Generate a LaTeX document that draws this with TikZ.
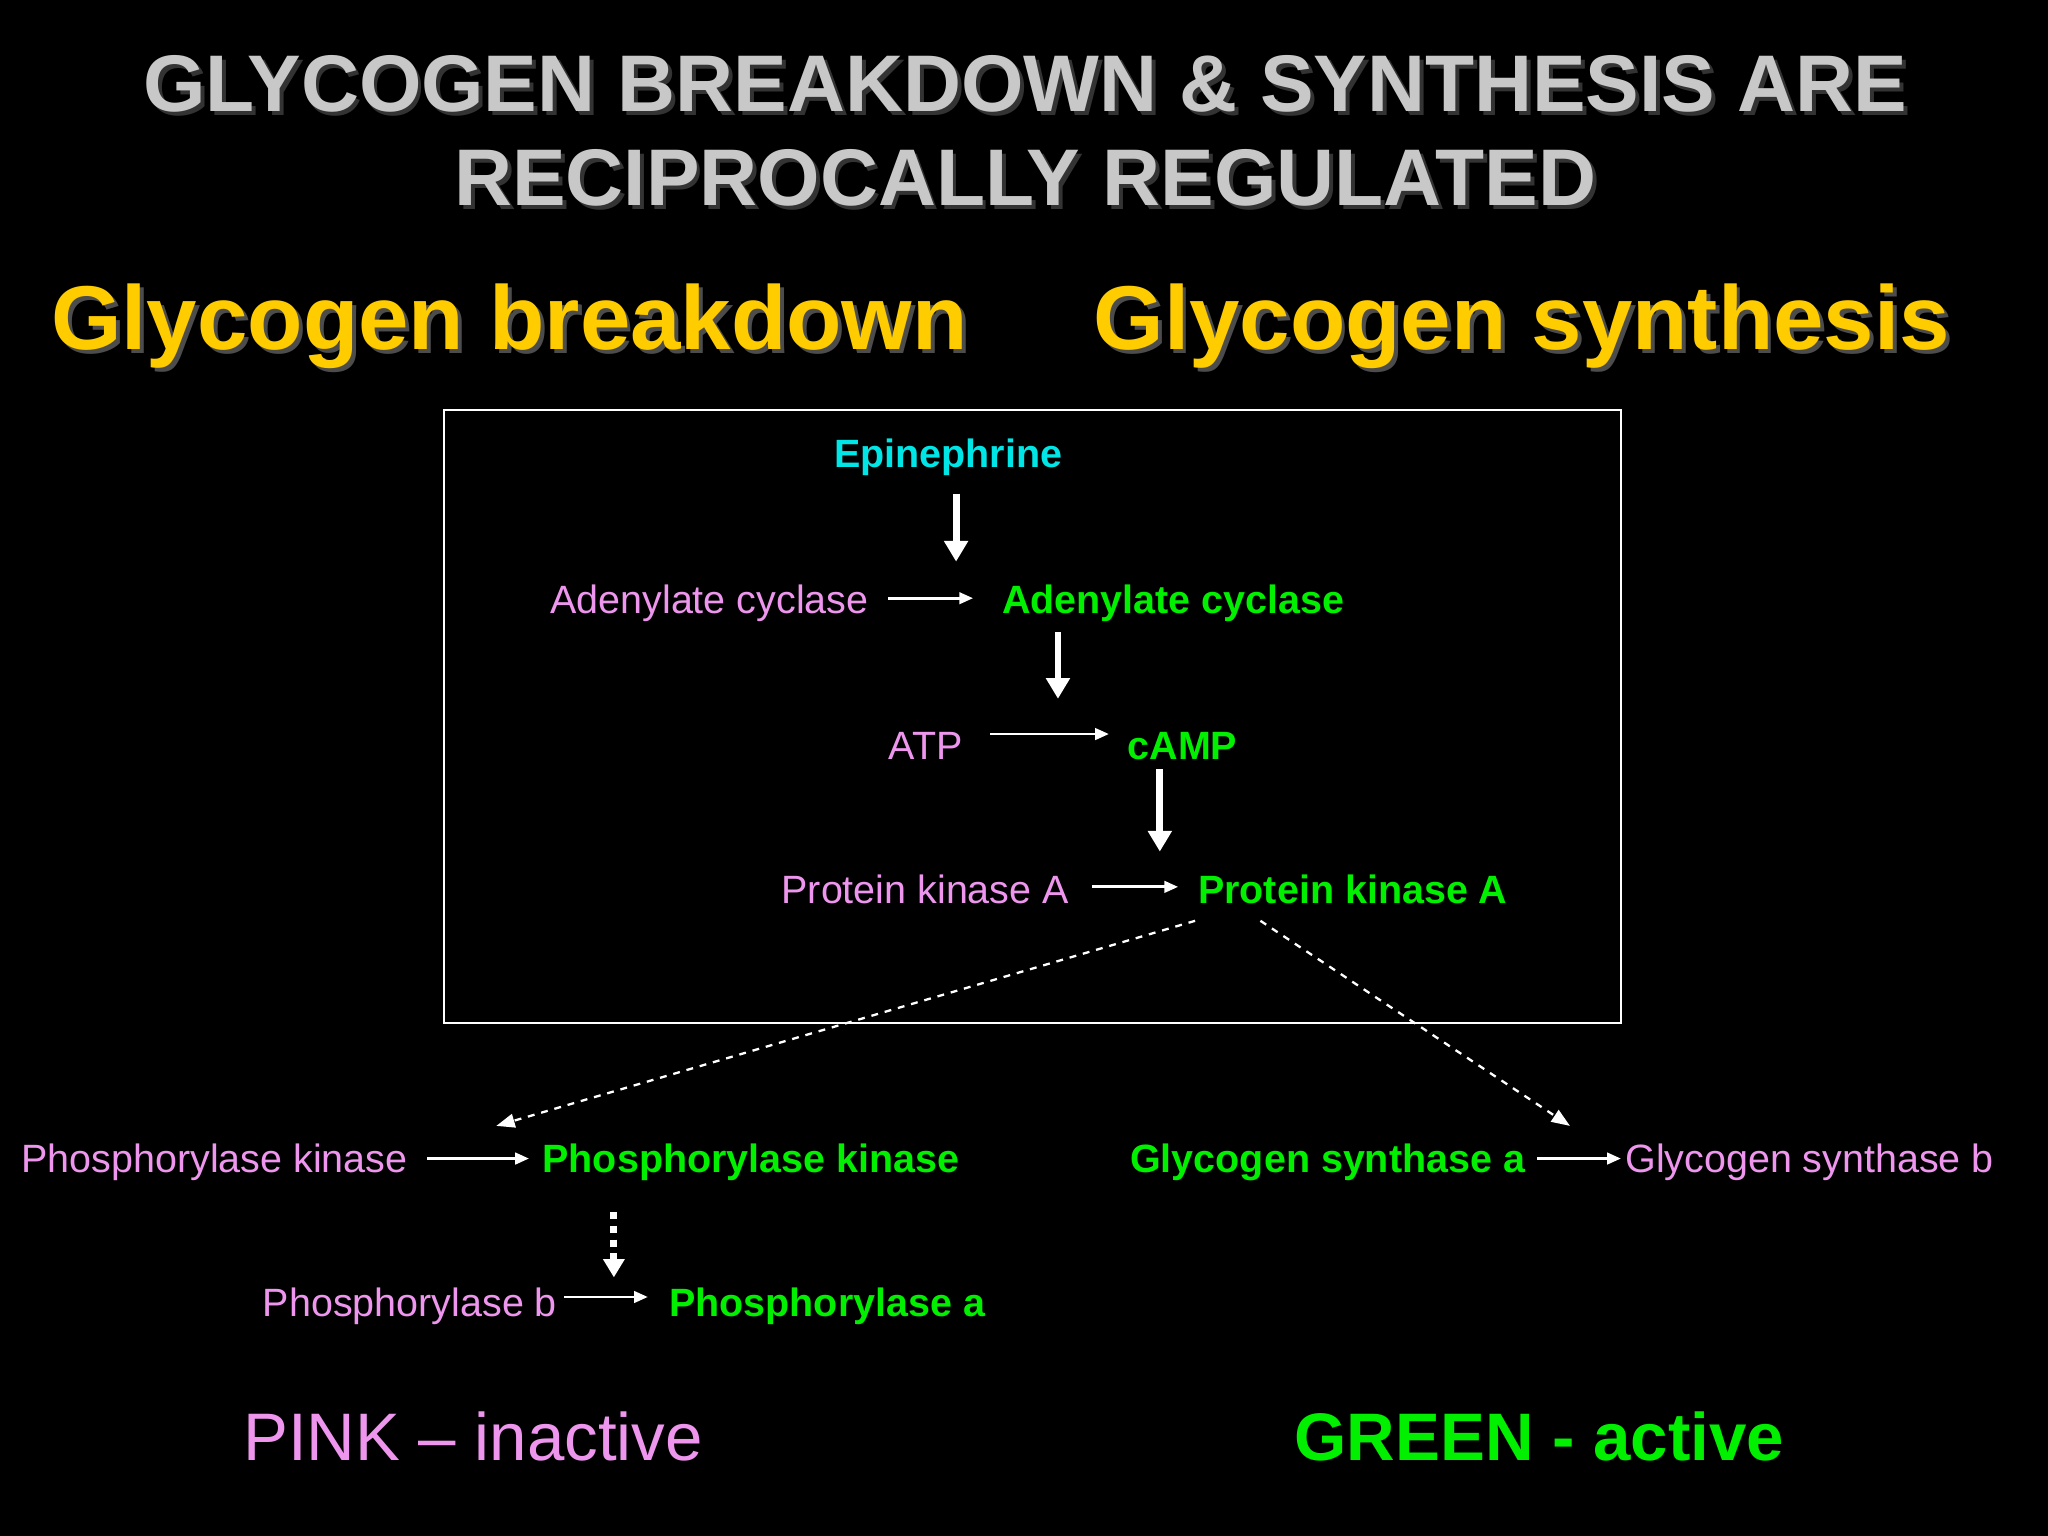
\documentclass[tikz,border=0pt]{standalone}
\usepackage{fontspec}
\setmainfont{Liberation Sans}
\usetikzlibrary{arrows.meta}
\definecolor{pk}{RGB}{238,150,238}
\definecolor{gr}{RGB}{0,240,0}
\definecolor{cy}{RGB}{0,230,230}
\definecolor{gd}{RGB}{255,204,0}
\definecolor{tg}{RGB}{200,200,200}
\begin{document}
\begin{tikzpicture}[x=0.02cm,y=-0.02cm,
  lab/.style={anchor=west,inner sep=0pt,font=\fontsize{17.2}{19}\selectfont},
  pinkl/.style={lab,text=pk},
  greenl/.style={lab,text=gr,font=\fontsize{17.2}{19}\selectfont\bfseries},
  thin/.style={white,line width=1.2pt,-{Triangle[length=6pt,width=5pt]}},
  fat/.style={white,line width=3pt,-{Triangle[length=9pt,width=10pt]}},
  dsh/.style={white,line width=1pt,dashed,-{Triangle[length=8pt,width=6pt]}}]
\fill[black] (0,0) rectangle (1568,1176);
\useasboundingbox (0,0) rectangle (1568,1176);
% title
\foreach \c/\d in {black!60!gray/3, tg/0}{
 \node[text=\c,font=\fontsize{35}{41}\selectfont\bfseries,align=center] (t\d) at (785+\d,100+\d) {GLYCOGEN BREAKDOWN \& SYNTHESIS ARE\\RECIPROCALLY REGULATED};}
\node[text=gray!60!black,font=\fontsize{39.5}{42}\selectfont\bfseries,anchor=west] (gb0) at (36,253) {Glycogen breakdown};
\node[text=gd,font=\fontsize{39.5}{42}\selectfont\bfseries,anchor=west] (gb) at (33,250) {Glycogen breakdown};
\node[text=gray!60!black,font=\fontsize{39.5}{42}\selectfont\bfseries,anchor=west] (gs0) at (834,253) {Glycogen synthesis};
\node[text=gd,font=\fontsize{39.5}{42}\selectfont\bfseries,anchor=west] (gs) at (831,250) {Glycogen synthesis};
% box
\draw[white,line width=1pt] (340,314) rectangle (1241,783);
\node[lab,text=cy,font=\fontsize{17.2}{19}\selectfont\bfseries,anchor=center] (epi) at (726,350) {Epinephrine};
\node[pinkl] (ac1) at (421,462) {Adenylate cyclase};
\node[greenl] (ac2) at (767,462) {Adenylate cyclase};
\node[pinkl] (atp) at (680,571) {ATP};
\node[greenl] (camp) at (863,571) {cAMP};
\node[pinkl] (pka1) at (598,681) {Protein kinase A};
\node[greenl] (pka2) at (917,681) {Protein kinase A};
\node[pinkl] (phk1) at (16,890) {Phosphorylase kinase};
\node[greenl] (phk2) at (415,890) {Phosphorylase kinase};
\node[greenl] (gsa) at (865,890) {Glycogen synthase a};
\node[pinkl] (gsb) at (1244,890) {Glycogen synthase b};
\node[pinkl] (pb) at (201,1000) {Phosphorylase b};
\node[greenl] (pa) at (512,1000) {Phosphorylase a};
\node[anchor=west,text=pk,font=\fontsize{29.3}{34}\selectfont] (pink) at (180,1100) {PINK – inactive};
\node[anchor=west,text=gr,font=\fontsize{29.3}{34}\selectfont\bfseries] (green) at (985,1100) {GREEN - active};
% connectors
\coordinate (e1) at (732,378); \coordinate (e2) at (732,430);
\draw[fat] (e1) -- (e2);
\coordinate (a1) at (810,484); \coordinate (a2) at (810,535);
\draw[fat] (a1) -- (a2);
\coordinate (c1) at (888,589); \coordinate (c2) at (888,652);
\draw[fat] (c1) -- (c2);
\coordinate (x1) at (680,458); \coordinate (x2) at (745,458);
\draw[thin] (x1) -- (x2);
\coordinate (y1) at (758,562); \coordinate (y2) at (849,562);
\draw[thin] (y1) -- (y2);
\coordinate (z1) at (836,679); \coordinate (z2) at (902,679);
\draw[thin] (z1) -- (z2);
\coordinate (w1) at (327,887); \coordinate (w2) at (405,887);
\draw[thin] (w1) -- (w2);
\coordinate (v1) at (1177,887); \coordinate (v2) at (1241,887);
\draw[thin] (v1) -- (v2);
\coordinate (u1) at (432,993); \coordinate (u2) at (496,993);
\draw[thin] (u1) -- (u2);
\coordinate (d1) at (915,705); \coordinate (d2) at (380,862);
\draw[dsh] (d1) -- (d2);
\coordinate (f1) at (965,705); \coordinate (f2) at (1202,862);
\draw[dsh] (f1) -- (f2);
\coordinate (g1) at (470,928); \coordinate (g2) at (470,978);
\draw[white,line width=3pt,dash pattern=on 3pt off 3pt,-{Triangle[length=8pt,width=9pt]}] (g1) -- (g2);
\end{tikzpicture}
\end{document}
